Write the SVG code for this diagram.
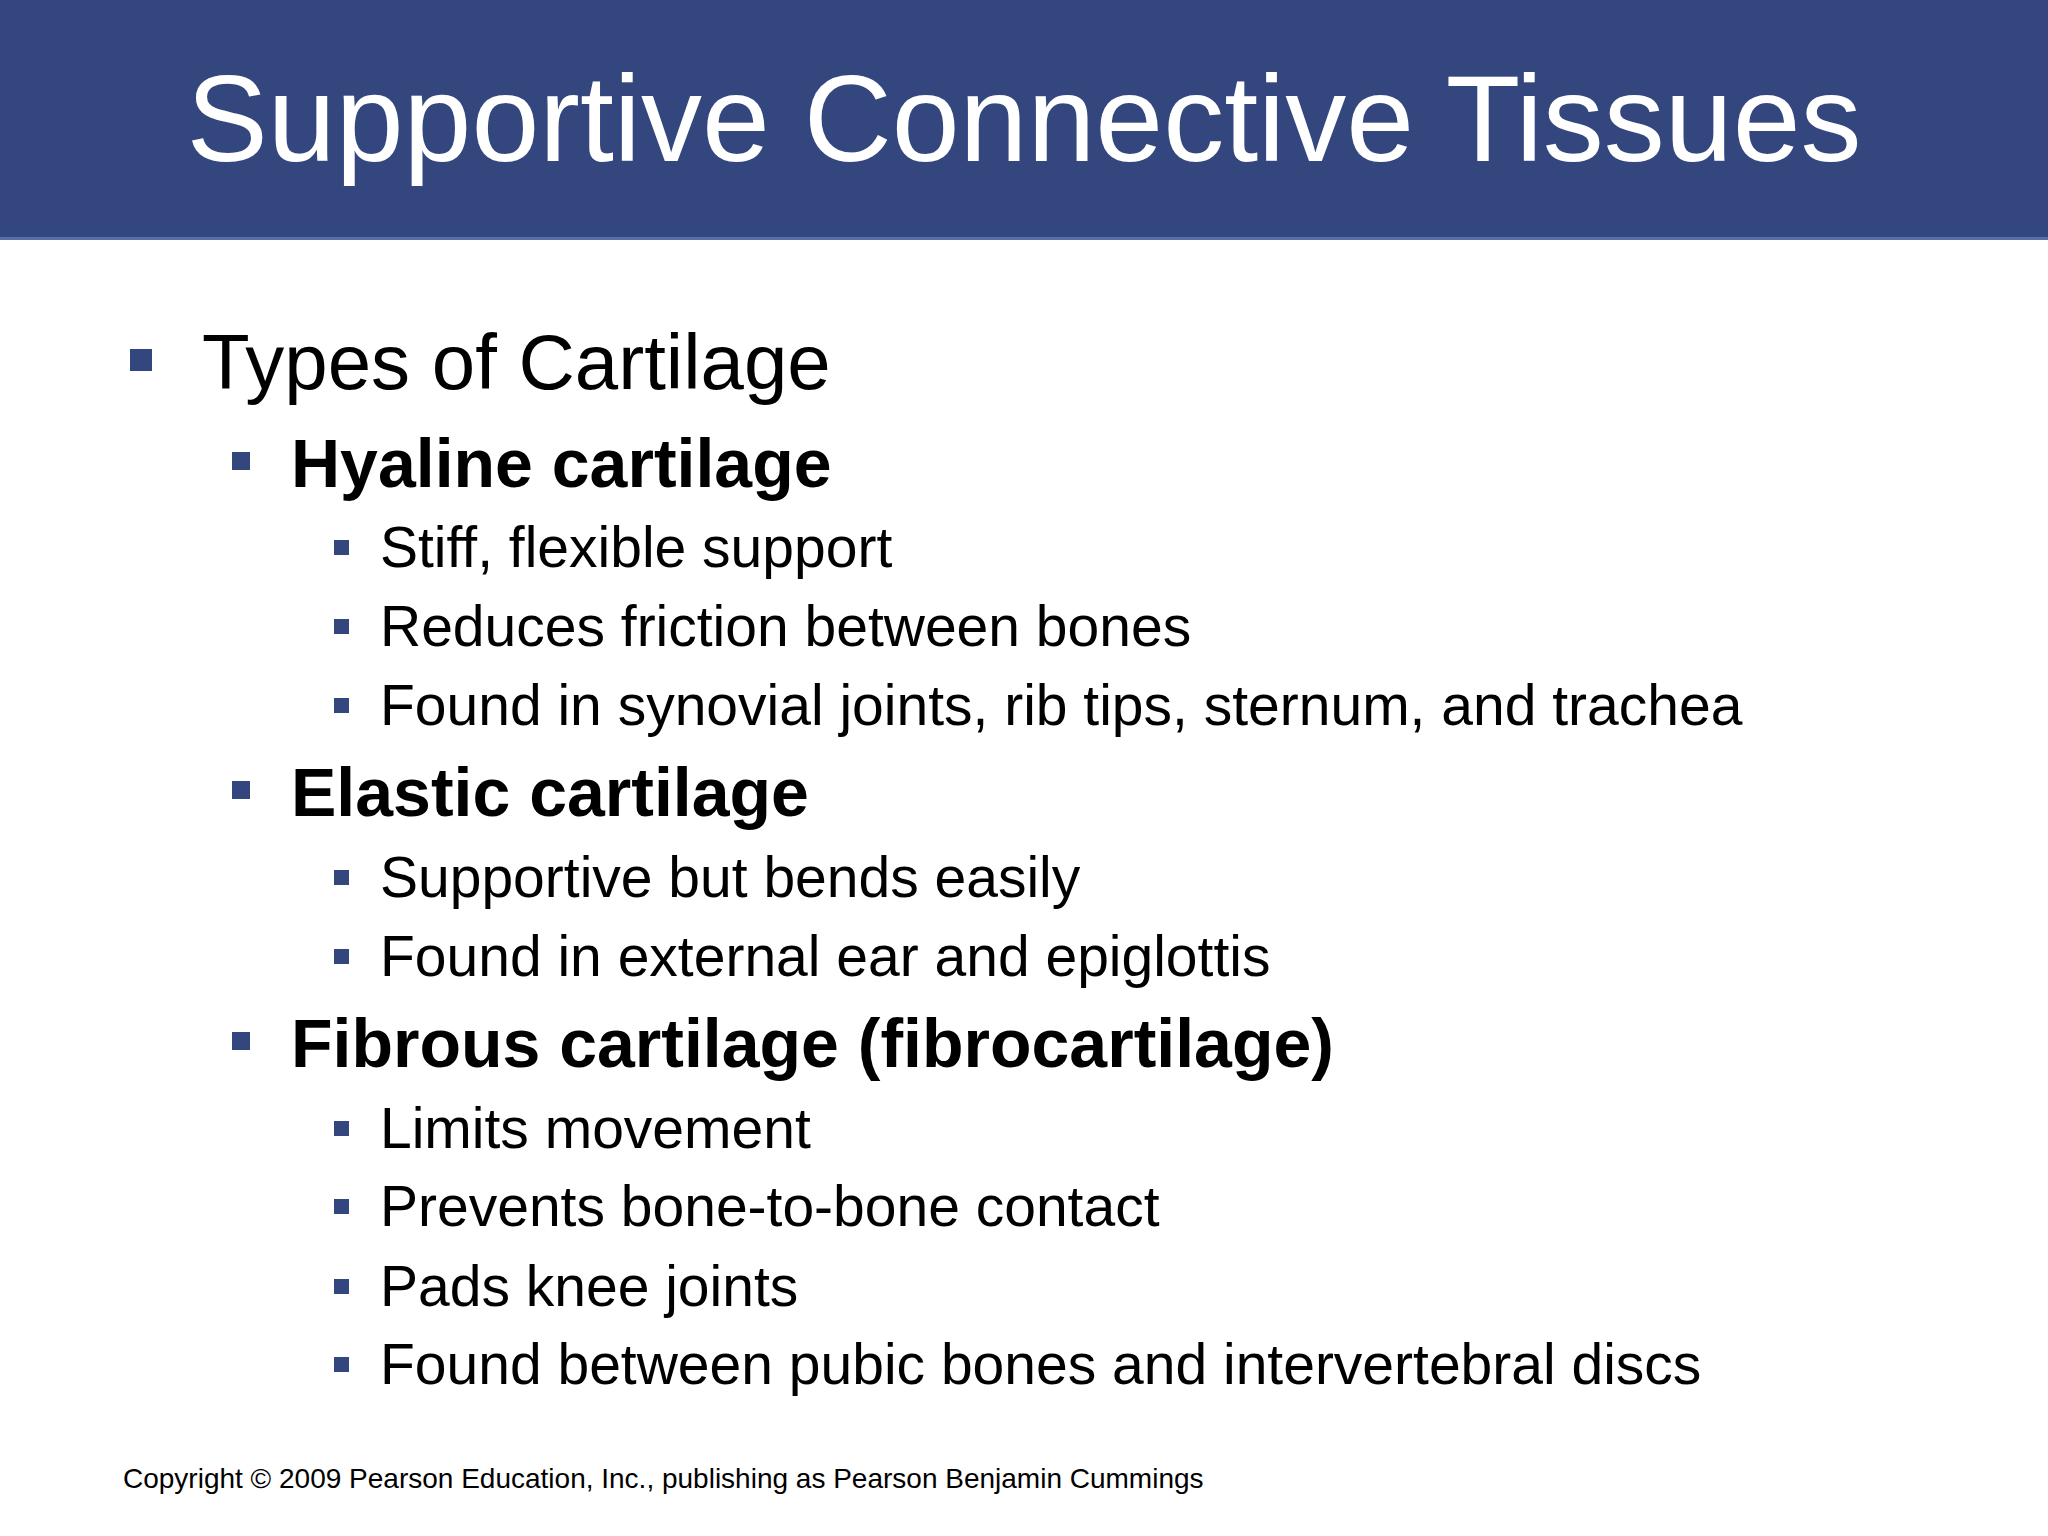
<svg xmlns="http://www.w3.org/2000/svg" width="2048" height="1536" viewBox="0 0 2048 1536">
<style>
text{font-family:"Liberation Sans",Arial,sans-serif;fill:#000}
.b{fill:#33467E}
.l1{font-size:78px}
.l2{font-size:68px;font-weight:bold}
.l3{font-size:57px}
</style>
<rect width="2048" height="1536" fill="#fff"/>
<g id="title">
<rect x="0" y="0" width="2048" height="239" fill="#33467E"/>
<rect x="0" y="237" width="2048" height="3" fill="#5A6FA8"/>
<text x="1024" y="161" text-anchor="middle" style="font-size:122px;fill:#fff">Supportive Connective Tissues</text>
</g>
<g id="content">
<rect class="b" x="130" y="349" width="22" height="22"/>
<text class="l1" x="202" y="389">Types of Cartilage</text>
<rect class="b" x="232" y="452" width="18" height="18"/>
<text class="l2" x="291" y="487">Hyaline cartilage</text>
<rect class="b" x="334" y="540" width="15" height="15"/>
<text class="l3" x="380" y="567">Stiff, flexible support</text>
<rect class="b" x="334" y="619" width="15" height="15"/>
<text class="l3" x="380" y="646">Reduces friction between bones</text>
<rect class="b" x="334" y="698" width="15" height="15"/>
<text class="l3" x="380" y="725">Found in synovial joints, rib tips, sternum, and trachea</text>
<rect class="b" x="232" y="781" width="18" height="18"/>
<text class="l2" x="291" y="816">Elastic cartilage</text>
<rect class="b" x="334" y="870" width="15" height="15"/>
<text class="l3" x="380" y="897">Supportive but bends easily</text>
<rect class="b" x="334" y="949" width="15" height="15"/>
<text class="l3" x="380" y="976">Found in external ear and epiglottis</text>
<rect class="b" x="232" y="1032" width="18" height="18"/>
<text class="l2" x="291" y="1067">Fibrous cartilage (fibrocartilage)</text>
<rect class="b" x="334" y="1121" width="15" height="15"/>
<text class="l3" x="380" y="1148">Limits movement</text>
<rect class="b" x="334" y="1199" width="15" height="15"/>
<text class="l3" x="380" y="1226">Prevents bone-to-bone contact</text>
<rect class="b" x="334" y="1279" width="15" height="15"/>
<text class="l3" x="380" y="1306">Pads knee joints</text>
<rect class="b" x="334" y="1357" width="15" height="15"/>
<text class="l3" x="380" y="1384">Found between pubic bones and intervertebral discs</text>
</g>
<g id="footer">
<text x="123" y="1488" style="font-size:28px">Copyright © 2009 Pearson Education, Inc., publishing as Pearson Benjamin Cummings</text>
</g>
</svg>
